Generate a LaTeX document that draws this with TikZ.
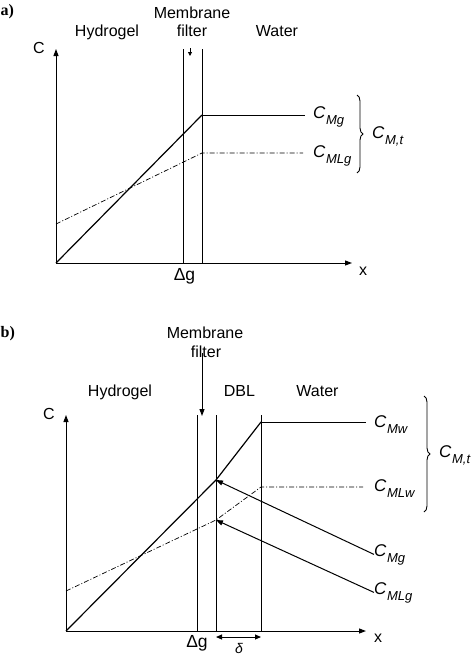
\documentclass[tikz,border=0pt]{standalone}
\usepackage{fontspec}
\setmainfont{Liberation Sans}
\newfontfamily\serifb{Liberation Serif}
\usetikzlibrary{arrows.meta,decorations.pathreplacing}
\newcommand\csubl[1]{\textit{C}\kern0.5pt\raisebox{-6pt}{\fontsize{13}{14}\selectfont\textit{#1}}}
\begin{document}
\begin{tikzpicture}[x=1pt,y=-1pt,
 axis/.style={line width=1pt,-{Triangle[length=7pt,width=5pt]}},
 wall/.style={line width=1pt},
 prof/.style={line width=1.2pt},
 plat/.style={line width=0.7pt},
 dd/.style={line width=0.7pt,dash pattern=on 5pt off 2pt on 1pt off 2pt},
 lbl/.style={inner sep=0pt,anchor=base,font=\fontsize{16}{18}\selectfont},
 clbl/.style={inner sep=0pt,anchor=base west,font=\fontsize{17}{19}\selectfont},
 brc/.style={line width=0.9pt,decorate,decoration={brace,amplitude=6pt}},
 tag/.style={inner sep=0pt,anchor=base west,font=\fontsize{16}{18}\selectfont\serifb\bfseries},
 ptr/.style={line width=1pt,-{Triangle[length=7pt,width=5pt]}},
 dptr/.style={line width=1pt,{Triangle[length=6pt,width=5pt]}-{Triangle[length=6pt,width=5pt]}},
]
\useasboundingbox (0,0) rectangle (474,656);
% ---------- panel a ----------
\node[tag] (ta) at (0.5,15) {a)};
\node[lbl] (amem) at (192,18) {Membrane};
\node[lbl] (afil) at (192,36) {filter};
\node[lbl] (ahyd) at (107,36) {Hydrogel};
\node[lbl] (awat) at (277,36) {Water};
\coordinate (aO) at (56,263);
\coordinate (aYT) at (56,49);
\coordinate (aXR) at (352,263);
\draw[axis] (aO) -- (aYT);
\draw[axis] (aO) -- (aXR);
\node[lbl] (aC) at (39,53) {C};
\node[lbl] (ax) at (363,275) {x};
\coordinate (aw1t) at (183,49);
\coordinate (aw1b) at (183,263);
\coordinate (aw2t) at (202,49);
\coordinate (aw2b) at (202,263);
\draw[wall] (aw1t) -- (aw1b);
\draw[wall] (aw2t) -- (aw2b);
\coordinate (amt) at (190,48);
\coordinate (amb) at (190,56);
\draw[line width=0.8pt,-{Triangle[length=4pt,width=4pt]}] (amt) -- (amb);
\node[lbl,font=\fontsize{17.5}{19}\selectfont] (adg) at (184.5,280) {Δg};
\coordinate (aP) at (202,115);
\coordinate (aPe) at (305,115);
\draw[prof] (aO) -- (aP);
\draw[plat] (aP) -- (aPe);
\coordinate (aL0) at (56,224);
\coordinate (aL1) at (202,153);
\coordinate (aL1e) at (303,153);
\draw[dd] (aL0) -- (aL1) -- (aL1e);
\node[clbl] (aCMg) at (313,118) {\csubl{Mg}};
\node[clbl] (aCMLg) at (313,157) {\csubl{MLg}};
\coordinate (aBt) at (357,95);
\coordinate (aBb) at (357,173);
\draw[brc] (aBt) -- (aBb);
\node[clbl] (aCMt) at (372,138) {\csubl{M,t}};
% ---------- panel b ----------
\node[tag] (tb) at (0.5,337) {b)};
\node[lbl] (bmem) at (205,338) {Membrane};
\node[lbl] (bfil) at (206,357) {filter};
\coordinate (bmt) at (202,353);
\coordinate (bmb) at (202,416);
\draw[ptr] (bmt) -- (bmb);
\node[lbl] (bhyd) at (120,396) {Hydrogel};
\node[lbl] (bdbl) at (239.5,396) {DBL};
\node[lbl] (bwat) at (317.5,396) {Water};
\node[lbl] (bC) at (49,419) {C};
\coordinate (bO) at (66,631);
\coordinate (bYT) at (66,415);
\coordinate (bXR) at (366,631);
\draw[axis] (bO) -- (bYT);
\draw[axis] (bO) -- (bXR);
\node[lbl] (bx) at (378,642) {x};
\coordinate (bw1t) at (197,415);
\coordinate (bw1b) at (197,631);
\coordinate (bw2t) at (216,415);
\coordinate (bw2b) at (216,631);
\coordinate (bw3t) at (261,415);
\coordinate (bw3b) at (261,631);
\draw[wall] (bw1t) -- (bw1b);
\draw[wall] (bw2t) -- (bw2b);
\draw[wall] (bw3t) -- (bw3b);
\node[lbl,font=\fontsize{17.5}{19}\selectfont] (bdg) at (197,647) {Δg};
\coordinate (bd1) at (216,637);
\coordinate (bd2) at (261,637);
\draw[dptr] (bd1) -- (bd2);
\node[lbl,font=\fontsize{14}{15}\selectfont] (bdel) at (239,653.5) {\textit{δ}};
\coordinate (bP1) at (216,480);
\coordinate (bP2) at (261,422);
\coordinate (bP2e) at (366,422);
\draw[prof] (bO) -- (bP1) -- (bP2);
\draw[plat] (bP2) -- (bP2e);
\coordinate (bL0) at (66,591);
\coordinate (bL1) at (216,520);
\coordinate (bL2) at (261,487);
\coordinate (bL2e) at (363,487);
\draw[dd] (bL0) -- (bL1) -- (bL2) -- (bL2e);
\node[clbl] (bCMw) at (374,427) {\csubl{Mw}};
\node[clbl] (bCMLw) at (374,491) {\csubl{MLw}};
\node[clbl] (bCMg) at (374,556) {\csubl{Mg}};
\node[clbl] (bCMLg) at (374,594) {\csubl{MLg}};
\draw[ptr] (bCMg.west) -- (bP1);
\draw[ptr] (bCMLg.west) -- (bL1);
\coordinate (bBt) at (424,396);
\coordinate (bBb) at (424,512);
\draw[brc] (bBt) -- (bBb);
\node[clbl] (bCMt) at (439,457) {\csubl{M,t}};
\end{tikzpicture}
\end{document}
